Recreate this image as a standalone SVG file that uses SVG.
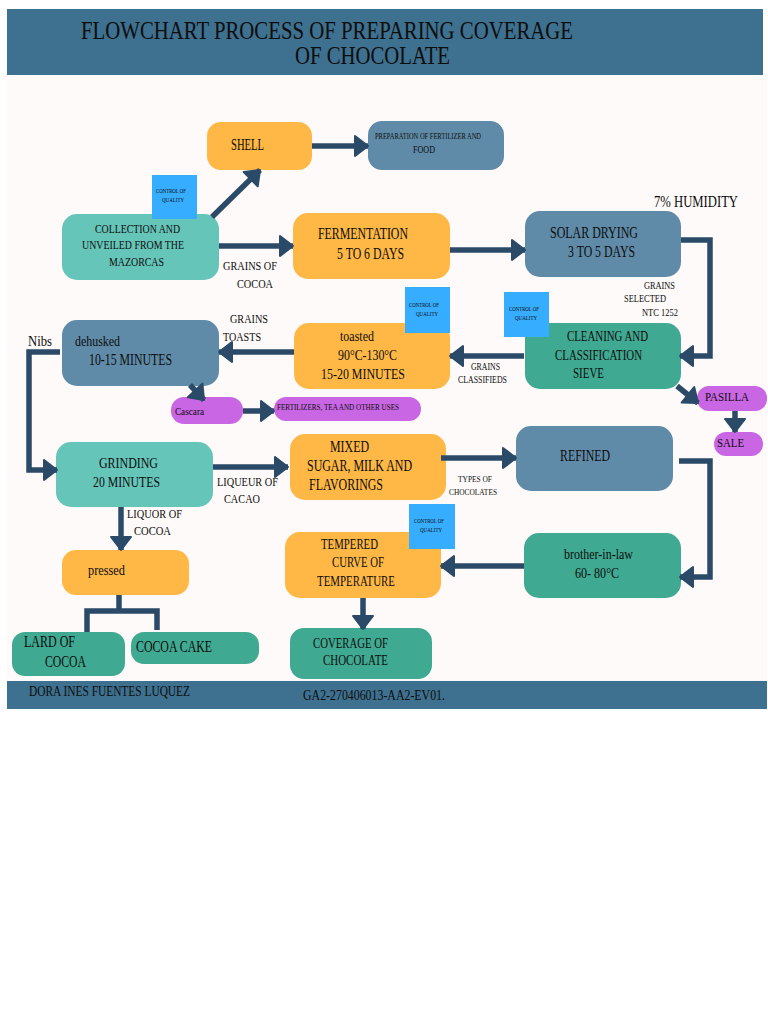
<svg xmlns="http://www.w3.org/2000/svg" width="768" height="1024" viewBox="0 0 768 1024">
<style>
text{font-family:"Liberation Serif","Times New Roman",serif;fill:#0d0d0d;font-size:16px}
.or{fill:#ffb845}.te{fill:#66c5b9}.st{fill:#5f8ba8}.gr{fill:#40a991}.pu{fill:#c966e4}.bl{fill:#36adff}.ba{fill:#3e708f}
.c{fill:none;stroke:#2a4a68;stroke-width:5.5}
.a{marker-end:url(#h)}
.s{font-size:13px}.xs{font-size:5.5px}.m{font-size:10.5px}.n{font-size:8.5px}
</style>
<defs><marker id="h" markerUnits="userSpaceOnUse" markerWidth="18" markerHeight="26" refX="15" refY="13" orient="auto"><path d="M2 3 L15 13 L2 23 Z" fill="#2a4a68" stroke="#2a4a68" stroke-width="2" stroke-linejoin="round"/></marker></defs>
<rect x="7" y="75" width="760" height="606" fill="#fdfaf9"/>
<g id="header"><rect class="ba" x="7" y="9" width="756" height="66"/>
<text x="81" y="39" style="font-size:25px" textLength="492" lengthAdjust="spacingAndGlyphs">FLOWCHART PROCESS OF PREPARING COVERAGE</text>
<text x="295" y="64" style="font-size:25px" textLength="155" lengthAdjust="spacingAndGlyphs">OF CHOCOLATE</text></g>
<g id="shell"><rect class="or" x="207" y="122" width="105" height="48" rx="14"/><text x="231" y="150" textLength="33" lengthAdjust="spacingAndGlyphs">SHELL</text></g>
<g id="preparation"><rect class="st" x="368" y="121" width="136" height="49" rx="14"/><text class="n" x="375" y="139" textLength="106" lengthAdjust="spacingAndGlyphs">PREPARATION OF FERTILIZER AND</text><text class="n" style="font-size:10px" x="413" y="153" textLength="22" lengthAdjust="spacingAndGlyphs">FOOD</text></g>
<g id="collection"><rect class="te" x="62" y="214" width="157" height="66" rx="15"/>
<text class="s" x="95" y="233" textLength="85" lengthAdjust="spacingAndGlyphs">COLLECTION AND</text><text class="s" x="82" y="249" textLength="102" lengthAdjust="spacingAndGlyphs">UNVEILED FROM THE</text><text class="s" x="109" y="266" textLength="55" lengthAdjust="spacingAndGlyphs">MAZORCAS</text></g>
<g id="qc1"><rect class="bl" x="152" y="175" width="45" height="44"/><text class="xs" x="156" y="193" textLength="30" lengthAdjust="spacingAndGlyphs">CONTROL OF</text><text class="xs" x="162" y="202" textLength="22" lengthAdjust="spacingAndGlyphs">QUALITY</text></g>
<g id="fermentation"><rect class="or" x="293" y="213" width="157" height="66" rx="15"/><text x="318" y="239" textLength="90" lengthAdjust="spacingAndGlyphs">FERMENTATION</text><text x="337" y="259" textLength="67" lengthAdjust="spacingAndGlyphs">5 TO 6 DAYS</text></g>
<g id="solar"><rect class="st" x="525" y="211" width="156" height="66" rx="15"/><text x="550" y="238" textLength="88" lengthAdjust="spacingAndGlyphs">SOLAR DRYING</text><text x="568" y="257" textLength="67" lengthAdjust="spacingAndGlyphs">3 TO 5 DAYS</text></g>
<g id="cleaning"><rect class="gr" x="525" y="323" width="156" height="66" rx="15"/><text style="font-size:15px" x="567" y="341" textLength="81" lengthAdjust="spacingAndGlyphs">CLEANING AND</text><text style="font-size:15px" x="555" y="360" textLength="87" lengthAdjust="spacingAndGlyphs">CLASSIFICATION</text><text style="font-size:15px" x="573" y="378" textLength="31" lengthAdjust="spacingAndGlyphs">SIEVE</text></g>
<g id="toasted"><rect class="or" x="294" y="323" width="156" height="66" rx="15"/><text style="font-size:15px" x="340" y="341" textLength="34" lengthAdjust="spacingAndGlyphs">toasted</text><text style="font-size:15px" x="338" y="360" textLength="59" lengthAdjust="spacingAndGlyphs">90°C-130°C</text><text style="font-size:15px" x="321" y="379" textLength="84" lengthAdjust="spacingAndGlyphs">15-20 MINUTES</text></g>
<g id="qc2"><rect class="bl" x="405" y="287" width="45" height="46"/><text class="xs" x="409" y="307" textLength="30" lengthAdjust="spacingAndGlyphs">CONTROL OF</text><text class="xs" x="416" y="316" textLength="22" lengthAdjust="spacingAndGlyphs">QUALITY</text></g>
<g id="qc3"><rect class="bl" x="504" y="292" width="45" height="45"/><text class="xs" x="509" y="311" textLength="30" lengthAdjust="spacingAndGlyphs">CONTROL OF</text><text class="xs" x="515" y="320" textLength="22" lengthAdjust="spacingAndGlyphs">QUALITY</text></g>
<g id="dehusked"><rect class="st" x="62" y="320" width="157" height="66" rx="15"/><text style="font-size:15px" x="75" y="346" textLength="45" lengthAdjust="spacingAndGlyphs">dehusked</text><text x="89" y="365" textLength="83" lengthAdjust="spacingAndGlyphs">10-15 MINUTES</text></g>
<g id="cascara"><rect class="pu" x="171" y="397" width="72" height="27" rx="13"/><text class="m" x="175" y="415" style="font-size:11px" textLength="29" lengthAdjust="spacingAndGlyphs">Cascara</text></g>
<g id="fertilizers"><rect class="pu" x="274" y="397" width="147" height="24" rx="12"/><text class="n" x="277" y="410" textLength="122" lengthAdjust="spacingAndGlyphs">FERTILIZERS, TEA AND OTHER USES</text></g>
<g id="pasilla"><rect class="pu" x="697" y="386" width="70" height="25" rx="12"/><text class="s" x="705" y="401" textLength="44" lengthAdjust="spacingAndGlyphs">PASILLA</text></g>
<g id="sale"><rect class="pu" x="714" y="432" width="49" height="24" rx="12"/><text class="s" x="717" y="447" textLength="27" lengthAdjust="spacingAndGlyphs">SALE</text></g>
<g id="grinding"><rect class="te" x="56" y="442" width="157" height="65" rx="15"/><text style="font-size:15px" x="99" y="468" textLength="59" lengthAdjust="spacingAndGlyphs">GRINDING</text><text style="font-size:15px" x="93" y="487" textLength="67" lengthAdjust="spacingAndGlyphs">20 MINUTES</text></g>
<g id="mixed"><rect class="or" x="290" y="434" width="156" height="66" rx="15"/><text x="330" y="452" textLength="39" lengthAdjust="spacingAndGlyphs">MIXED</text><text x="307" y="471" textLength="105" lengthAdjust="spacingAndGlyphs">SUGAR, MILK AND</text><text x="309" y="490" textLength="74" lengthAdjust="spacingAndGlyphs">FLAVORINGS</text></g>
<g id="refined"><rect class="st" x="516" y="426" width="157" height="65" rx="15"/><text x="560" y="461" textLength="50" lengthAdjust="spacingAndGlyphs">REFINED</text></g>
<g id="brother"><rect class="gr" x="524" y="533" width="157" height="65" rx="15"/><text style="font-size:15px" x="564" y="559" textLength="69" lengthAdjust="spacingAndGlyphs">brother-in-law</text><text style="font-size:15px" x="575" y="578" textLength="44" lengthAdjust="spacingAndGlyphs">60- 80°C</text></g>
<g id="tempered"><rect class="or" x="285" y="532" width="156" height="66" rx="15"/><text x="321" y="549" style="font-size:14px" textLength="57" lengthAdjust="spacingAndGlyphs">TEMPERED</text><text x="332" y="567" style="font-size:14px" textLength="52" lengthAdjust="spacingAndGlyphs">CURVE OF</text><text x="317" y="586" style="font-size:14px" textLength="78" lengthAdjust="spacingAndGlyphs">TEMPERATURE</text></g>
<g id="qc4"><rect class="bl" x="409" y="504" width="46" height="45"/><text class="xs" x="414" y="523" textLength="30" lengthAdjust="spacingAndGlyphs">CONTROL OF</text><text class="xs" x="420" y="532" textLength="22" lengthAdjust="spacingAndGlyphs">QUALITY</text></g>
<g id="pressed"><rect class="or" x="62" y="550" width="127" height="45" rx="14"/><text style="font-size:15px" x="88" y="575" textLength="37" lengthAdjust="spacingAndGlyphs">pressed</text></g>
<g id="lard"><rect class="gr" x="12" y="632" width="113" height="44" rx="13"/><text x="24" y="647" textLength="51" lengthAdjust="spacingAndGlyphs">LARD OF</text><text x="45" y="667" textLength="41" lengthAdjust="spacingAndGlyphs">COCOA</text></g>
<g id="cake"><rect class="gr" x="131" y="632" width="128" height="32" rx="13"/><text x="136" y="652" textLength="76" lengthAdjust="spacingAndGlyphs">COCOA CAKE</text></g>
<g id="coverage"><rect class="gr" x="290" y="628" width="142" height="51" rx="14"/><text x="313" y="648" style="font-size:14px" textLength="75" lengthAdjust="spacingAndGlyphs">COVERAGE OF</text><text x="323" y="665" style="font-size:14px" textLength="65" lengthAdjust="spacingAndGlyphs">CHOCOLATE</text></g>
<g id="footer"><rect class="ba" x="7" y="681" width="760" height="28"/><text style="font-size:14px" x="29" y="696" textLength="161" lengthAdjust="spacingAndGlyphs">DORA INES FUENTES LUQUEZ</text><text style="font-size:14px" x="303" y="700" textLength="142" lengthAdjust="spacingAndGlyphs">GA2-270406013-AA2-EV01.</text></g>
<g id="connectors">
<path class="c a" d="M212 217L260 170"/>
<path class="c a" d="M312 146H368"/>
<path class="c a" d="M219 246H293"/>
<path class="c a" d="M450 250H525"/>
<path class="c a" d="M681 240H710V356H680"/>
<path class="c a" d="M524 356H450"/>
<path class="c a" d="M294 352H219"/>
<path class="c a" d="M190 385L204 400"/>
<path class="c a" d="M243 411H274"/>
<path class="c a" d="M60 352H29V470H57"/>
<path class="c a" d="M213 467H288"/>
<path class="c a" d="M441 458H516"/>
<path class="c a" d="M679 461H710V577H680"/>
<path class="c a" d="M524 566H441"/>
<path class="c a" d="M363 598V629"/>
<path class="c a" d="M121 507V550"/>
<path class="c" d="M119 595V611M87 632V611H157V630"/>
<path class="c a" d="M677 386L698 403"/>
<path class="c a" d="M735 411V432"/>
</g>
<g id="labels">
<text x="654" y="207" style="font-size:16px" textLength="84" lengthAdjust="spacingAndGlyphs">7%  HUMIDITY</text>
<text x="223" y="270" style="font-size:12px" textLength="54" lengthAdjust="spacingAndGlyphs">GRAINS OF</text><text x="237" y="288" style="font-size:12px" textLength="36" lengthAdjust="spacingAndGlyphs">COCOA</text>
<text class="m" x="644" y="289" textLength="31" lengthAdjust="spacingAndGlyphs">GRAINS</text><text class="m" x="624" y="302" textLength="42" lengthAdjust="spacingAndGlyphs">SELECTED</text><text class="m" x="642" y="316" textLength="36" lengthAdjust="spacingAndGlyphs">NTC 1252</text>
<text x="230" y="323" style="font-size:12px" textLength="38" lengthAdjust="spacingAndGlyphs">GRAINS</text><text x="223" y="341" style="font-size:12px" textLength="38" lengthAdjust="spacingAndGlyphs">TOASTS</text>
<text x="28" y="346" style="font-size:15px" textLength="24" lengthAdjust="spacingAndGlyphs">Nibs</text>
<text class="n" style="font-size:10px" x="471" y="370" textLength="29" lengthAdjust="spacingAndGlyphs">GRAINS</text><text class="n" style="font-size:10px" x="458" y="383" textLength="49" lengthAdjust="spacingAndGlyphs">CLASSIFIEDS</text>
<text class="n" style="font-size:9px" x="458" y="482" textLength="34" lengthAdjust="spacingAndGlyphs">TYPES OF</text><text class="n" style="font-size:9px" x="449" y="495" textLength="48" lengthAdjust="spacingAndGlyphs">CHOCOLATES</text>
<text x="217" y="486" style="font-size:13px" textLength="61" lengthAdjust="spacingAndGlyphs">LIQUEUR OF</text><text x="224" y="503" style="font-size:13px" textLength="36" lengthAdjust="spacingAndGlyphs">CACAO</text>
<text x="127" y="518" style="font-size:13px" textLength="55" lengthAdjust="spacingAndGlyphs">LIQUOR OF</text><text x="134" y="535" style="font-size:13px" textLength="37" lengthAdjust="spacingAndGlyphs">COCOA</text>
</g>
</svg>
